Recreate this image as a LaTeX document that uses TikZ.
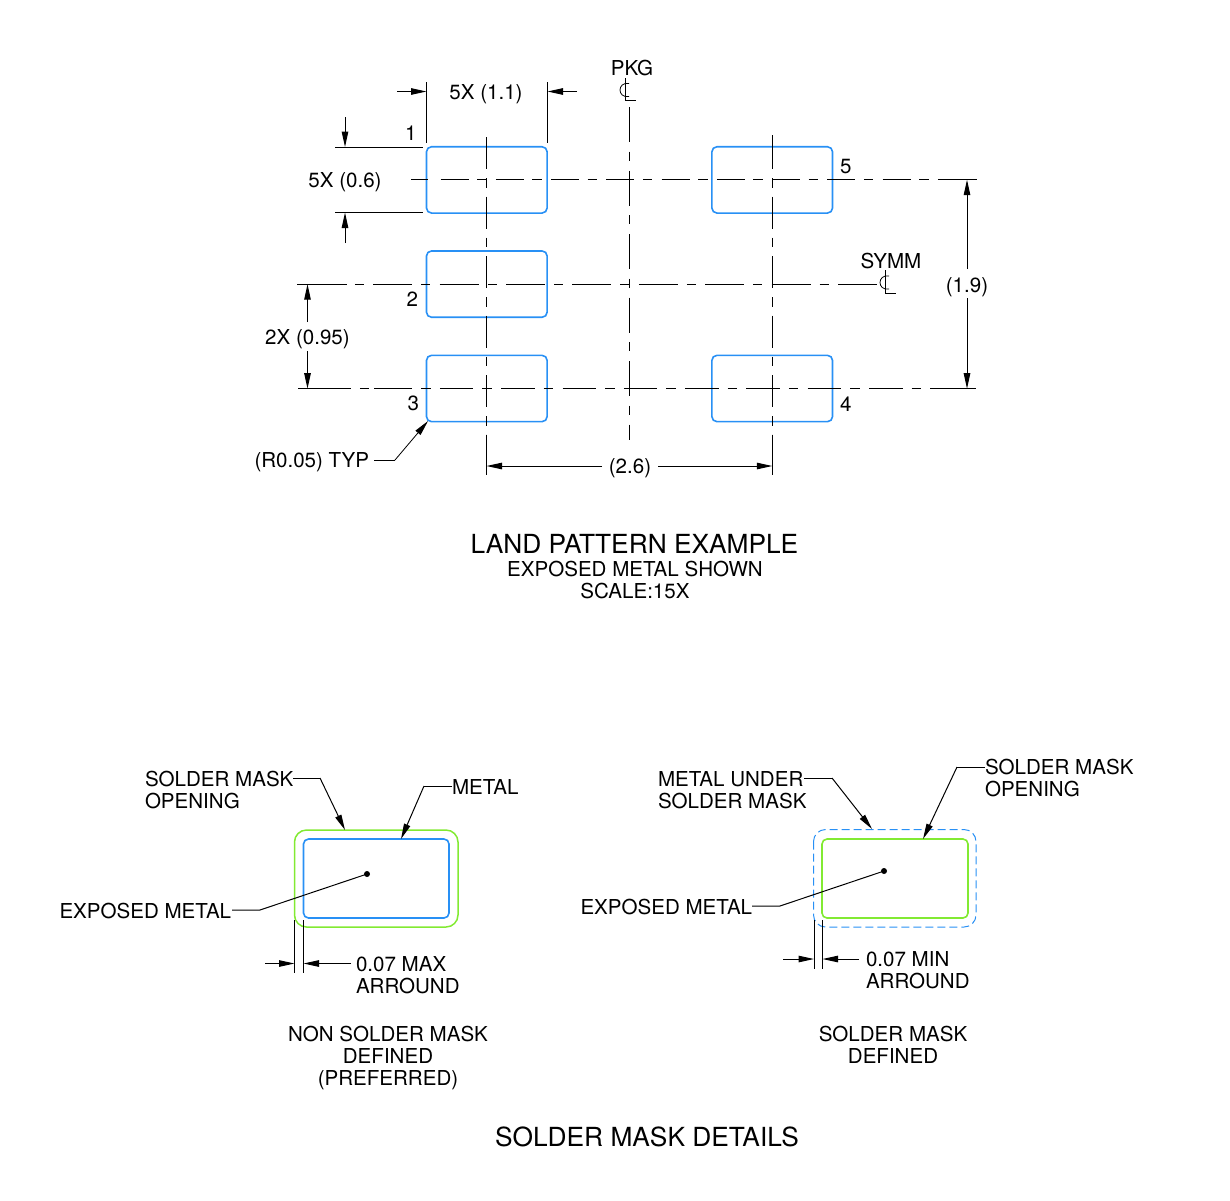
\documentclass[tikz,border=0pt]{standalone}
\usepackage{fontspec}
\setmainfont{TeX Gyre Heros}
\usetikzlibrary{arrows.meta}
\definecolor{padblue}{HTML}{2890F5}
\definecolor{maskgreen}{HTML}{82EA32}
\tikzset{
  lbl/.style={inner sep=0pt,outer sep=0pt,anchor=base west,font=\fontsize{20.55}{22}\selectfont},
  lblc/.style={lbl,anchor=base},
  big/.style={inner sep=0pt,outer sep=0pt,anchor=base,font=\fontsize{26.3}{28}\selectfont},
  pad/.style={draw=padblue,line width=1.6pt,rounded corners=5pt},
  padnode/.style={pad,inner sep=0pt,outer sep=0pt,minimum width=120.6pt,minimum height=66.3pt},
  thin/.style={line width=1pt,black},
  dim/.style={thin,-{Triangle[length=15.5pt,width=6.5pt]}},
  dimthin/.style={dim,line width=.8pt},
  centerhone/.style={thin,dash pattern=on 28pt off 8.5pt on 9.5pt off 9.25pt},
  centerhtwo/.style={thin,dash pattern=on 39pt off 9pt on 9pt off 9.4pt},
  centerhthree/.style={thin,dash pattern=on 33.5pt off 9pt on 9.5pt off 9.3pt},
  centerside/.style={thin,dash pattern=on 32pt off 9pt on 9.5pt off 9pt},
  centermid/.style={thin,dash pattern=on 35pt off 9.5pt on 9pt off 10pt},
  clmark/.style={line width=.8pt,black},
}
\begin{document}
\begin{tikzpicture}[x=1pt,y=-1pt]
\useasboundingbox (0,0) rectangle (1230,1200);
% pads
\node[padnode] (p1) at (486.8,179.9) {};
\node[padnode] (p2) at (486.8,284.1) {};
\node[padnode] (p3) at (486.8,388.5) {};
\node[padnode] (p4) at (772.2,388.5) {};
\node[padnode] (p5) at (772.2,179.9) {};
% horizontal centre lines
\draw[thin] (411,179.7) -- (428,179.7);
\draw[centerhone] (440.7,179.7) -- (966,179.7);
\draw[thin] (938,179.7) -- (976.5,179.7);
\draw[thin] (297,284.2) -- (347,284.2);
\draw[centerhtwo] (306.8,284.2) -- (870,284.2);
\draw[thin] (838,284.2) -- (877,284.2);
\draw[thin] (298,388.7) -- (347,388.7);
\draw[thin] (374,388.7) -- (382,388.7);
\draw[centerhthree] (317.3,388.7) -- (960,388.7);
\draw[thin] (932,388.7) -- (975.5,388.7);
% vertical centre lines
\draw[centerside] (486.5,137) -- (486.5,466);
\draw[thin] (486.5,434.5) -- (486.5,475);
\draw[centermid] (629.5,107) -- (629.5,440);
\draw[thin] (772.3,135) -- (772.3,140);
\draw[centerside] (772.3,137) -- (772.3,466);
\draw[thin] (772.3,434.5) -- (772.3,475);
% 5X (1.1)
\coordinate (e1a) at (426.5,82); \coordinate (e1b) at (426.5,143);
\coordinate (e2a) at (547.5,82); \coordinate (e2b) at (547.5,143);
\draw[thin] (e1a) -- (e1b);
\draw[thin] (e2a) -- (e2b);
\coordinate (a1) at (397,91.5); \coordinate (a1t) at (426.5,91.5);
\coordinate (a2) at (577,91.5); \coordinate (a2t) at (547.5,91.5);
\draw[dim] (a1) -- (a1t);
\draw[dim] (a2) -- (a2t);
\node[lblc] (t11) at (486,99) {5X (1.1)};
% 5X (0.6)
\coordinate (e3a) at (335,147); \coordinate (e3b) at (423,147);
\coordinate (e4a) at (335,212.5); \coordinate (e4b) at (423,212.5);
\draw[thin] (e3a) -- (e3b);
\draw[thin] (e4a) -- (e4b);
\coordinate (a3) at (345,117); \coordinate (a3t) at (345,147);
\coordinate (a4) at (345,243); \coordinate (a4t) at (345,212.5);
\draw[dim] (a3) -- (a3t);
\draw[dim] (a4) -- (a4t);
\node[lblc] (t06) at (345,187) {5X (0.6)};
% 2X (0.95)
\coordinate (a5) at (307.5,322); \coordinate (a5t) at (307.5,284.2);
\coordinate (a6) at (307.5,351); \coordinate (a6t) at (307.5,388.7);
\draw[dim] (a5) -- (a5t);
\draw[dim] (a6) -- (a6t);
\node[lblc] (t095) at (307.5,344) {2X (0.95)};
% (1.9)
\coordinate (a7) at (967,269); \coordinate (a7t) at (967,179.7);
\coordinate (a8) at (967,298); \coordinate (a8t) at (967,388.7);
\draw[dim] (a7) -- (a7t);
\draw[dim] (a8) -- (a8t);
\node[lblc] (t19) at (967,292) {(1.9)};
% (2.6)
\coordinate (a9) at (602,466); \coordinate (a9t) at (486.5,466);
\coordinate (a10) at (658,466); \coordinate (a10t) at (772.3,466);
\draw[dim] (a9) -- (a9t);
\draw[dim] (a10) -- (a10t);
\node[lblc] (t26) at (630,473) {(2.6)};
% R0.05
\node[lbl] (tr) at (254.5,467) {(R0.05) TYP};
\coordinate (r1) at (374,460); \coordinate (r2) at (395,460); \coordinate (r3) at (428,421);
\draw[thin] (r1) -- (r2);
\draw[dimthin] (r2) -- (r3);
% pin numbers
\node[lbl] (n1) at (405,140) {1};
\node[lbl] (n2) at (406.5,306) {2};
\node[lbl] (n3) at (407.5,410.5) {3};
\node[lbl] (n4) at (840,411) {4};
\node[lbl] (n5) at (840,173) {5};
% PKG CL
\node[lblc] (tpkg) at (632,75) {PKG};
\coordinate (c1) at (625.7,78); \coordinate (c1b) at (625.7,100.7); \coordinate (c1c) at (635.7,100.7);
\draw[clmark] (c1) -- (c1b) -- (c1c);
\draw[clmark] (629,83.5) .. controls (617,81.5) and (617,98.5) .. (629,96.5);
% SYMM CL
\node[lblc] (tsym) at (891,268) {SYMM};
\coordinate (c2) at (885.7,270); \coordinate (c2b) at (885.7,293); \coordinate (c2c) at (895.7,293);
\draw[clmark] (c2) -- (c2b) -- (c2c);
\draw[clmark] (889,276) .. controls (877,274) and (877,291) .. (889,289);
% titles
\node[big] (title1) at (634.5,553) {LAND PATTERN EXAMPLE};
\node[lblc] (title2) at (635,576) {EXPOSED METAL SHOWN};
\node[lblc] (title3) at (635,598) {SCALE:15X};
% --- left detail
\draw[draw=maskgreen,line width=1.5pt,rounded corners=12pt] (294.5,830) rectangle (458,927);
\draw[pad] (303.5,839) rectangle (449,918);
\coordinate (ld) at (367,874);
\fill (ld) circle (3);
\node[lbl] (lsm) at (145,786) {SOLDER MASK};
\node[lbl] (lop) at (145,808) {OPENING};
\node[lbl] (lm) at (452,794) {METAL};
\node[lbl] (lex) at (59.5,918) {EXPOSED METAL};
\node[lbl] (lmax) at (356,971) {0.07 MAX};
\node[lbl] (lar) at (356,993) {ARROUND};
\coordinate (l0) at (232,910); \coordinate (l1) at (260,910);
\draw[thin] (l0) -- (l1) -- (ld);
\coordinate (l2a) at (293,778); \coordinate (l2) at (320,778); \coordinate (l2t) at (345,830);
\draw[thin] (l2a) -- (l2);
\draw[dim] (l2) -- (l2t);
\coordinate (l3a) at (452,786); \coordinate (l3) at (424,786); \coordinate (l3t) at (401,839);
\draw[thin] (l3a) -- (l3);
\draw[dim] (l3) -- (l3t);
\coordinate (l6a) at (294.5,920); \coordinate (l6b) at (294.5,973);
\coordinate (l7a) at (303.5,920); \coordinate (l7b) at (303.5,973);
\draw[thin] (l6a) -- (l6b);
\draw[thin] (l7a) -- (l7b);
\coordinate (l4) at (265,963.5); \coordinate (l4t) at (294.5,963.5);
\coordinate (l5) at (351,963.5); \coordinate (l5t) at (303.5,963.5);
\draw[dim] (l4) -- (l4t);
\draw[dim] (l5) -- (l5t);
\node[lblc] (ln1) at (388,1041) {NON SOLDER MASK};
\node[lblc] (ln2) at (388,1063) {DEFINED};
\node[lblc] (ln3) at (388,1085) {(PREFERRED)};
% --- right detail
\draw[draw=padblue,line width=1pt,dash pattern=on 8pt off 4pt,rounded corners=12pt] (813.5,829.5) rectangle (976,927);
\draw[draw=maskgreen,line width=1.6pt,rounded corners=5pt] (822,839) rectangle (968,918);
\coordinate (rd) at (884,871);
\fill (rd) circle (3);
\node[lbl] (rmu) at (658,786) {METAL UNDER};
\node[lbl] (rsm) at (658,808) {SOLDER MASK};
\node[lbl] (rsm2) at (985,774) {SOLDER MASK};
\node[lbl] (rop) at (985,796) {OPENING};
\node[lbl] (rex) at (580.5,914) {EXPOSED METAL};
\node[lbl] (rmin) at (866,966.5) {0.07 MIN};
\node[lbl] (rar) at (866,988.5) {ARROUND};
\coordinate (q0) at (752,906); \coordinate (q1) at (780,906);
\draw[thin] (q0) -- (q1) -- (rd);
\coordinate (q2a) at (804,778); \coordinate (q2) at (832,778); \coordinate (q2t) at (872,829);
\draw[thin] (q2a) -- (q2);
\draw[dim] (q2) -- (q2t);
\coordinate (q3a) at (985,767); \coordinate (q3) at (957,767); \coordinate (q3t) at (923,839);
\draw[thin] (q3a) -- (q3);
\draw[dim] (q3) -- (q3t);
\coordinate (q6a) at (814,920); \coordinate (q6b) at (814,969);
\coordinate (q7a) at (822.5,920); \coordinate (q7b) at (822.5,969);
\draw[thin] (q6a) -- (q6b);
\draw[thin] (q7a) -- (q7b);
\coordinate (q4) at (783,959); \coordinate (q4t) at (814,959);
\coordinate (q5) at (859,959); \coordinate (q5t) at (822.5,959);
\draw[dim] (q4) -- (q4t);
\draw[dim] (q5) -- (q5t);
\node[lblc] (rn1) at (893,1041) {SOLDER MASK};
\node[lblc] (rn2) at (893,1063) {DEFINED};
\node[big] (title4) at (647,1146) {SOLDER MASK DETAILS};
\end{tikzpicture}
\end{document}
